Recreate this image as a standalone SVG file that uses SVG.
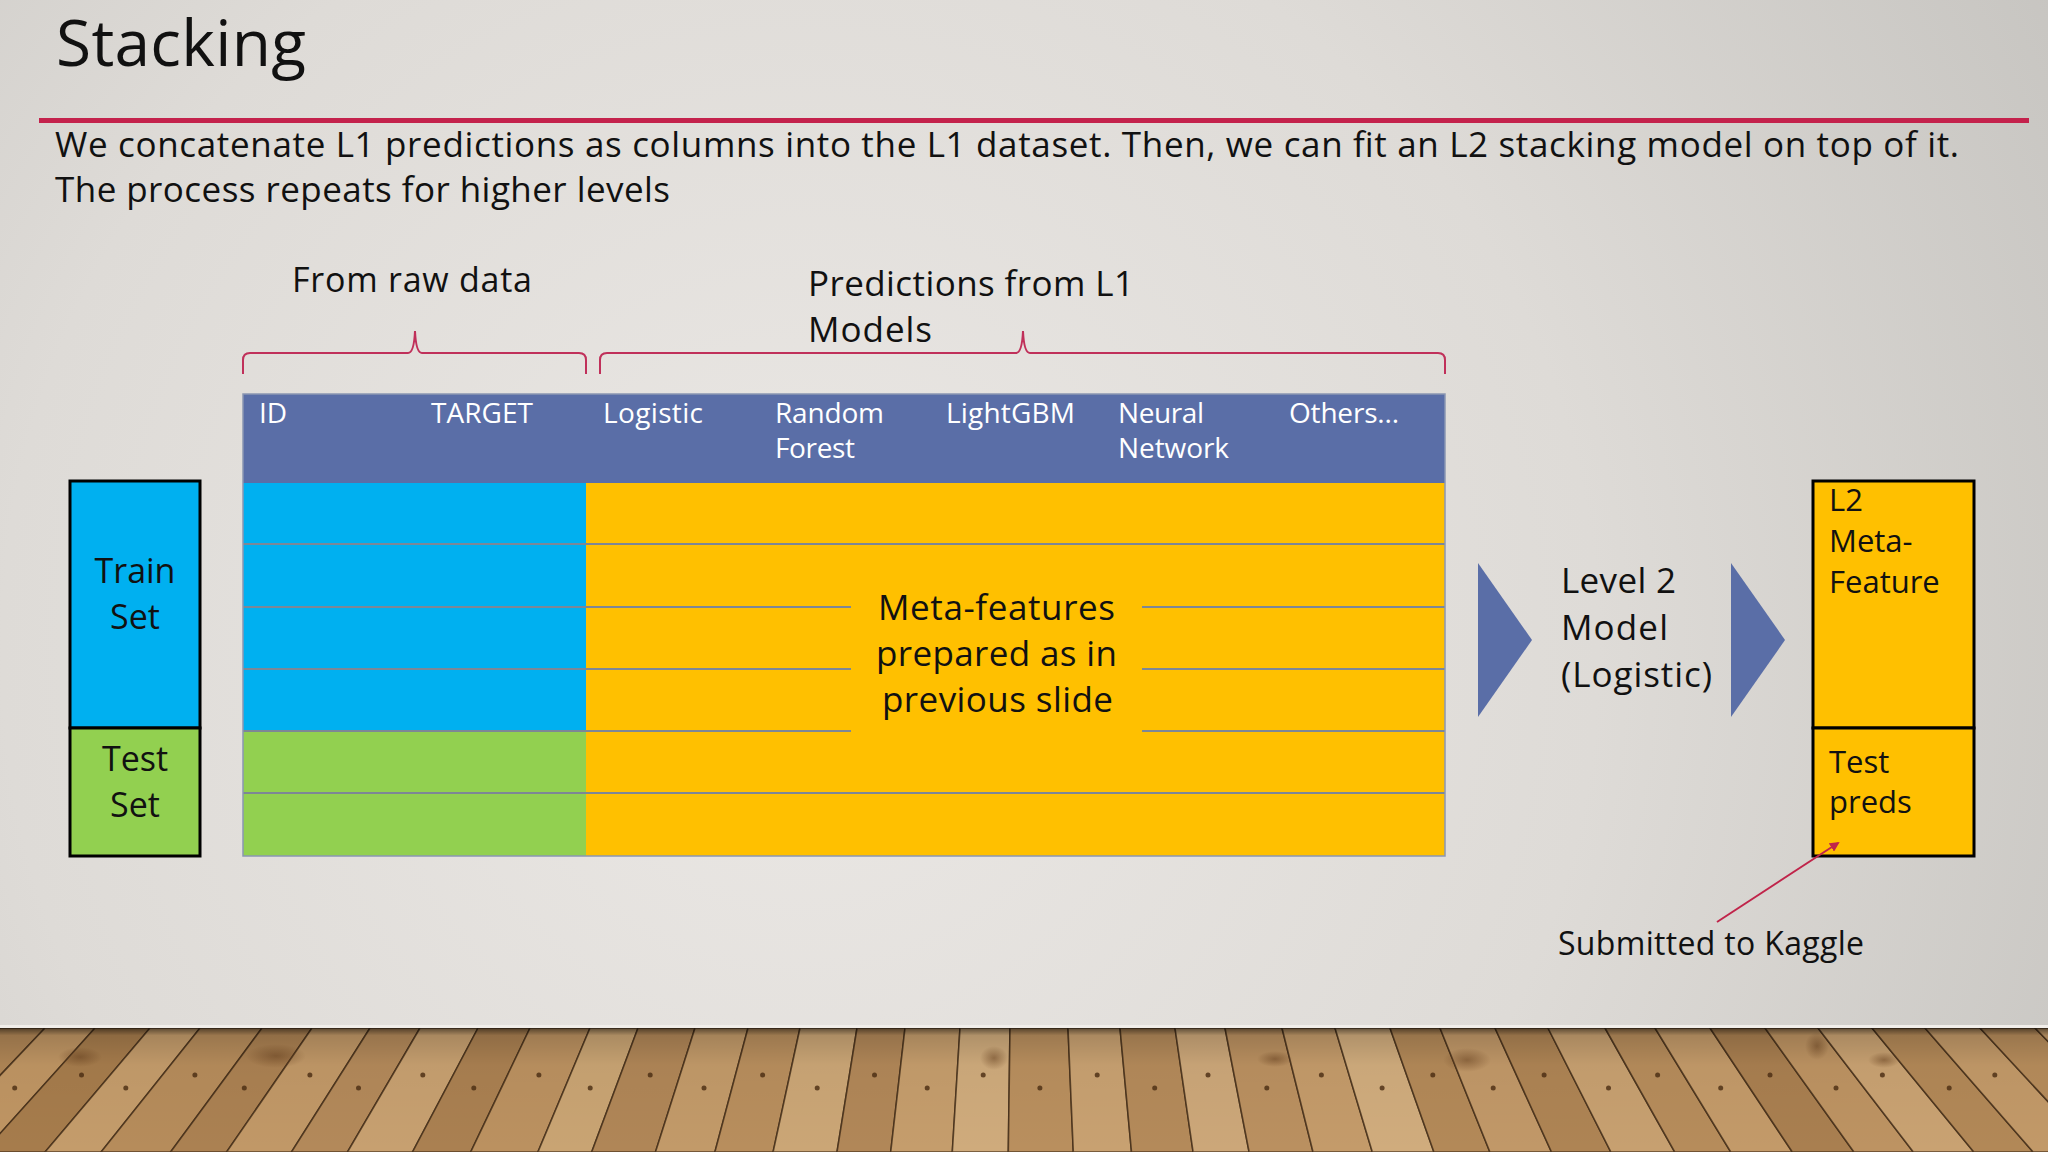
<svg xmlns="http://www.w3.org/2000/svg" width="2048" height="1152" viewBox="0 0 2048 1152">
<defs>
<radialGradient id="wall" cx="800" cy="650" r="1450" gradientUnits="userSpaceOnUse">
<stop offset="0" stop-color="#ebe8e5"/>
<stop offset="0.55" stop-color="#dedbd7"/>
<stop offset="1" stop-color="#c6c4c0"/>
</radialGradient>
<linearGradient id="floorShade" x1="0" y1="1028" x2="0" y2="1152" gradientUnits="userSpaceOnUse">
<stop offset="0" stop-color="#000" stop-opacity="0.55"/>
<stop offset="0.06" stop-color="#000" stop-opacity="0.15"/>
<stop offset="0.3" stop-color="#000" stop-opacity="0.03"/>
<stop offset="1" stop-color="#000" stop-opacity="0"/>
</linearGradient>
<radialGradient id="blot">
<stop offset="0" stop-color="#6b4320" stop-opacity="0.55"/>
<stop offset="1" stop-color="#6b4320" stop-opacity="0"/>
</radialGradient>
<marker id="redHead" markerWidth="10" markerHeight="10" refX="8" refY="5" orient="auto" markerUnits="userSpaceOnUse" viewBox="0 0 10 10">
<path d="M0,0 L10,5 L0,10 z" fill="#C0244A"/>
</marker>
<style>
.t{font-family:"Open Sans","Noto Sans","Liberation Sans",sans-serif;fill:#111}
.w{font-family:"Open Sans","Noto Sans","Liberation Sans",sans-serif;fill:#fff;font-size:28px}
.b35{font-size:35px}
.b34{font-size:34px}
.b31{font-size:31px}
.row{stroke:#7d8796;stroke-width:2}
.box{stroke:#000;stroke-width:3}
.brace{fill:none;stroke:#C0305A;stroke-width:2}
.plank{stroke:#3e2814;stroke-width:1.6;stroke-opacity:0.75}
.nail{fill:#4a2c12;opacity:0.8}
</style>
</defs>

<rect x="0" y="0" width="2048" height="1152" fill="url(#wall)"/>

<g id="floor">
<polygon class="plank" fill="#b08656" points="0,1028 45,1028 -72.5,1152 -122.9,1152"/>
<polygon class="plank" fill="#bf9563" points="45,1028 95,1028 -16.5,1152 -72.5,1152"/>
<polygon class="plank" fill="#a67c4c" points="95,1028 150,1028 45.1,1152 -16.5,1152"/>
<polygon class="plank" fill="#c49c6b" points="150,1028 200,1028 101.1,1152 45.1,1152"/>
<polygon class="plank" fill="#b68c5b" points="200,1028 262,1028 170.6,1152 101.1,1152"/>
<polygon class="plank" fill="#ab8152" points="262,1028 312,1028 226.6,1152 170.6,1152"/>
<polygon class="plank" fill="#c19867" points="312,1028 370,1028 291.5,1152 226.6,1152"/>
<polygon class="plank" fill="#b3895a" points="370,1028 420,1028 347.5,1152 291.5,1152"/>
<polygon class="plank" fill="#c7a070" points="420,1028 478,1028 412.5,1152 347.5,1152"/>
<polygon class="plank" fill="#aa8051" points="478,1028 530,1028 470.7,1152 412.5,1152"/>
<polygon class="plank" fill="#bb9160" points="530,1028 590,1028 537.9,1152 470.7,1152"/>
<polygon class="plank" fill="#c9a473" points="590,1028 638,1028 591.7,1152 537.9,1152"/>
<polygon class="plank" fill="#b08657" points="638,1028 695,1028 655.5,1152 591.7,1152"/>
<polygon class="plank" fill="#c29a69" points="695,1028 748,1028 714.9,1152 655.5,1152"/>
<polygon class="plank" fill="#b88e5d" points="748,1028 800,1028 773.1,1152 714.9,1152"/>
<polygon class="plank" fill="#cba676" points="800,1028 857,1028 837,1152 773.1,1152"/>
<polygon class="plank" fill="#b18758" points="857,1028 905,1028 890.7,1152 837,1152"/>
<polygon class="plank" fill="#c59d6c" points="905,1028 960,1028 952.3,1152 890.7,1152"/>
<polygon class="plank" fill="#cfab7c" points="960,1028 1010,1028 1008.3,1152 952.3,1152"/>
<polygon class="plank" fill="#b98f5e" points="1010,1028 1068,1028 1073.3,1152 1008.3,1152"/>
<polygon class="plank" fill="#c8a171" points="1068,1028 1120,1028 1131.5,1152 1073.3,1152"/>
<polygon class="plank" fill="#b48a5a" points="1120,1028 1175,1028 1193.1,1152 1131.5,1152"/>
<polygon class="plank" fill="#cca779" points="1175,1028 1225,1028 1249.1,1152 1193.1,1152"/>
<polygon class="plank" fill="#ba9060" points="1225,1028 1282,1028 1313,1152 1249.1,1152"/>
<polygon class="plank" fill="#c49b6a" points="1282,1028 1335,1028 1372.3,1152 1313,1152"/>
<polygon class="plank" fill="#d0ac7d" points="1335,1028 1390,1028 1433.9,1152 1372.3,1152"/>
<polygon class="plank" fill="#b38958" points="1390,1028 1440,1028 1489.9,1152 1433.9,1152"/>
<polygon class="plank" fill="#c19868" points="1440,1028 1495,1028 1551.5,1152 1489.9,1152"/>
<polygon class="plank" fill="#ae8454" points="1495,1028 1548,1028 1610.9,1152 1551.5,1152"/>
<polygon class="plank" fill="#c7a070" points="1548,1028 1605,1028 1674.7,1152 1610.9,1152"/>
<polygon class="plank" fill="#b68c5b" points="1605,1028 1655,1028 1730.7,1152 1674.7,1152"/>
<polygon class="plank" fill="#c39a69" points="1655,1028 1710,1028 1792.3,1152 1730.7,1152"/>
<polygon class="plank" fill="#a97f50" points="1710,1028 1765,1028 1853.9,1152 1792.3,1152"/>
<polygon class="plank" fill="#bd9362" points="1765,1028 1818,1028 1913.3,1152 1853.9,1152"/>
<polygon class="plank" fill="#c9a272" points="1818,1028 1872,1028 1973.8,1152 1913.3,1152"/>
<polygon class="plank" fill="#b28857" points="1872,1028 1925,1028 2033.1,1152 1973.8,1152"/>
<polygon class="plank" fill="#c29968" points="1925,1028 1980,1028 2094.7,1152 2033.1,1152"/>
<polygon class="plank" fill="#b68c5b" points="1980,1028 2035,1028 2156.3,1152 2094.7,1152"/>
<polygon class="plank" fill="#c49b6a" points="2035,1028 2090,1028 2217.9,1152 2156.3,1152"/>
<ellipse cx="80" cy="1057" rx="22" ry="10" fill="url(#blot)"/>
<ellipse cx="276" cy="1056" rx="30" ry="12" fill="url(#blot)"/>
<ellipse cx="994" cy="1058" rx="14" ry="12" fill="url(#blot)"/>
<ellipse cx="1275" cy="1059" rx="18" ry="8" fill="url(#blot)"/>
<ellipse cx="1467" cy="1060" rx="24" ry="12" fill="url(#blot)"/>
<ellipse cx="1817" cy="1046" rx="12" ry="14" fill="url(#blot)"/>
<ellipse cx="1884" cy="1060" rx="16" ry="8" fill="url(#blot)"/>
<circle class="nail" cx="14.7" cy="1088" r="2.5"/>
<circle class="nail" cx="81.5" cy="1075" r="2.5"/>
<circle class="nail" cx="125.8" cy="1088" r="2.5"/>
<circle class="nail" cx="194.9" cy="1075" r="2.5"/>
<circle class="nail" cx="244.3" cy="1088" r="2.5"/>
<circle class="nail" cx="309.9" cy="1075" r="2.5"/>
<circle class="nail" cx="358.5" cy="1088" r="2.5"/>
<circle class="nail" cx="422.8" cy="1075" r="2.5"/>
<circle class="nail" cx="473.8" cy="1088" r="2.5"/>
<circle class="nail" cx="538.9" cy="1075" r="2.5"/>
<circle class="nail" cx="590.2" cy="1088" r="2.5"/>
<circle class="nail" cx="650.2" cy="1075" r="2.5"/>
<circle class="nail" cx="704" cy="1088" r="2.5"/>
<circle class="nail" cx="762.6" cy="1075" r="2.5"/>
<circle class="nail" cx="817.2" cy="1088" r="2.5"/>
<circle class="nail" cx="874.5" cy="1075" r="2.5"/>
<circle class="nail" cx="927.2" cy="1088" r="2.5"/>
<circle class="nail" cx="983.2" cy="1075" r="2.5"/>
<circle class="nail" cx="1039.9" cy="1088" r="2.5"/>
<circle class="nail" cx="1097.2" cy="1075" r="2.5"/>
<circle class="nail" cx="1154.7" cy="1088" r="2.5"/>
<circle class="nail" cx="1208" cy="1075" r="2.5"/>
<circle class="nail" cx="1266.8" cy="1088" r="2.5"/>
<circle class="nail" cx="1321.4" cy="1075" r="2.5"/>
<circle class="nail" cx="1382.1" cy="1088" r="2.5"/>
<circle class="nail" cx="1432.8" cy="1075" r="2.5"/>
<circle class="nail" cx="1493.2" cy="1088" r="2.5"/>
<circle class="nail" cx="1544.1" cy="1075" r="2.5"/>
<circle class="nail" cx="1608.5" cy="1088" r="2.5"/>
<circle class="nail" cx="1657.6" cy="1075" r="2.5"/>
<circle class="nail" cx="1720.7" cy="1088" r="2.5"/>
<circle class="nail" cx="1770" cy="1075" r="2.5"/>
<circle class="nail" cx="1836" cy="1088" r="2.5"/>
<circle class="nail" cx="1882.4" cy="1075" r="2.5"/>
<circle class="nail" cx="1949.2" cy="1088" r="2.5"/>
<circle class="nail" cx="1994.8" cy="1075" r="2.5"/>
<rect x="0" y="1028" width="2048" height="124" fill="url(#floorShade)"/>
<rect x="0" y="1025" width="2048" height="3" fill="#f1eeea"/>
</g>

<g id="title">
<text class="t" x="56" y="66" font-size="64" textLength="250">Stacking</text>
<rect x="39" y="118" width="1990" height="5" fill="#C4224C"/>
<text class="t" x="55" y="157" font-size="35" textLength="1904">We concatenate L1 predictions as columns into the L1 dataset. Then, we can fit an L2 stacking model on top of it.</text>
<text class="t" x="55" y="202" font-size="35" textLength="615">The process repeats for higher levels</text>
</g>

<g id="label-raw">
<text class="t b34" x="292" y="292" textLength="240">From raw data</text>
<path class="brace" d="M243,374 L243,360 Q243,353 250,353 L408,353 Q414,353 415,331 Q416,353 422,353 L579,353 Q586,353 586,360 L586,374"/>
</g>

<g id="label-l1">
<text class="t b35" x="808" y="296" textLength="326">Predictions from L1</text>
<text class="t b35" x="808" y="342" textLength="124">Models</text>
<path class="brace" d="M600,374 L600,360 Q600,353 607,353 L1016,353 Q1022,353 1023,331 Q1024,353 1030,353 L1438,353 Q1445,353 1445,360 L1445,374"/>
</g>

<g id="train-test">
<rect class="box" x="70" y="481" width="130" height="247" fill="#00B0F0"/>
<rect class="box" x="70" y="728" width="130" height="128" fill="#92D050"/>
<text class="t b34" x="135" y="583" text-anchor="middle">Train</text>
<text class="t b34" x="135" y="629" text-anchor="middle">Set</text>
<text class="t b34" x="135" y="771" text-anchor="middle">Test</text>
<text class="t b34" x="135" y="817" text-anchor="middle">Set</text>
</g>

<g id="table">
<rect x="243" y="394" width="1202" height="89" fill="#5A6EA7"/>
<rect x="243" y="483" width="343" height="248" fill="#00B0F0"/>
<rect x="243" y="731" width="343" height="125" fill="#92D050"/>
<rect x="586" y="483" width="859" height="373" fill="#FFC000"/>
<line class="row" x1="243" y1="544" x2="1445" y2="544"/>
<line class="row" x1="243" y1="607" x2="851" y2="607"/>
<line class="row" x1="1142" y1="607" x2="1445" y2="607"/>
<line class="row" x1="243" y1="669" x2="851" y2="669"/>
<line class="row" x1="1142" y1="669" x2="1445" y2="669"/>
<line class="row" x1="243" y1="731" x2="851" y2="731"/>
<line class="row" x1="1142" y1="731" x2="1445" y2="731"/>
<line class="row" x1="243" y1="793" x2="1445" y2="793"/>
<rect x="243" y="394" width="1202" height="462" fill="none" stroke="#8a97b3" stroke-width="1.5"/>
<text class="w" x="259" y="423">ID</text>
<text class="w" x="431" y="423" textLength="102">TARGET</text>
<text class="w" x="603" y="423" textLength="100">Logistic</text>
<text class="w" x="775" y="423" textLength="109">Random</text>
<text class="w" x="775" y="458" textLength="80">Forest</text>
<text class="w" x="946" y="423" textLength="129">LightGBM</text>
<text class="w" x="1118" y="423" textLength="86">Neural</text>
<text class="w" x="1118" y="458" textLength="111">Network</text>
<text class="w" x="1289" y="423" textLength="110">Others...</text>
<text class="t b35" x="878" y="620" textLength="237">Meta-features</text>
<text class="t b35" x="876" y="666" textLength="241">prepared as in</text>
<text class="t b35" x="882" y="712" textLength="231">previous slide</text>
</g>

<g id="level2">
<text class="t b35" x="1561" y="593" textLength="115">Level 2</text>
<text class="t b35" x="1561" y="640" textLength="107">Model</text>
<text class="t b35" x="1561" y="687" textLength="151">(Logistic)</text>
</g>

<g id="l2-output">
<rect class="box" x="1813" y="481" width="161" height="247" fill="#FFC000"/>
<rect class="box" x="1813" y="728" width="161" height="128" fill="#FFC000"/>
<text class="t b31" x="1829" y="511">L2</text>
<text class="t b31" x="1829" y="552">Meta-</text>
<text class="t b31" x="1829" y="593">Feature</text>
<text class="t b31" x="1829" y="773">Test</text>
<text class="t b31" x="1829" y="813">preds</text>
</g>

<g id="kaggle">
<text class="t" x="1558" y="955" font-size="32" textLength="306">Submitted to Kaggle</text>
</g>

<g id="connectors">
<polygon points="1478,563 1532,640 1478,717" fill="#5A6EA7"/>
<polygon points="1731,563 1785,640 1731,717" fill="#5A6EA7"/>
<line x1="1717" y1="922" x2="1838" y2="843" stroke="#C0244A" stroke-width="2" marker-end="url(#redHead)"/>
</g>
</svg>
